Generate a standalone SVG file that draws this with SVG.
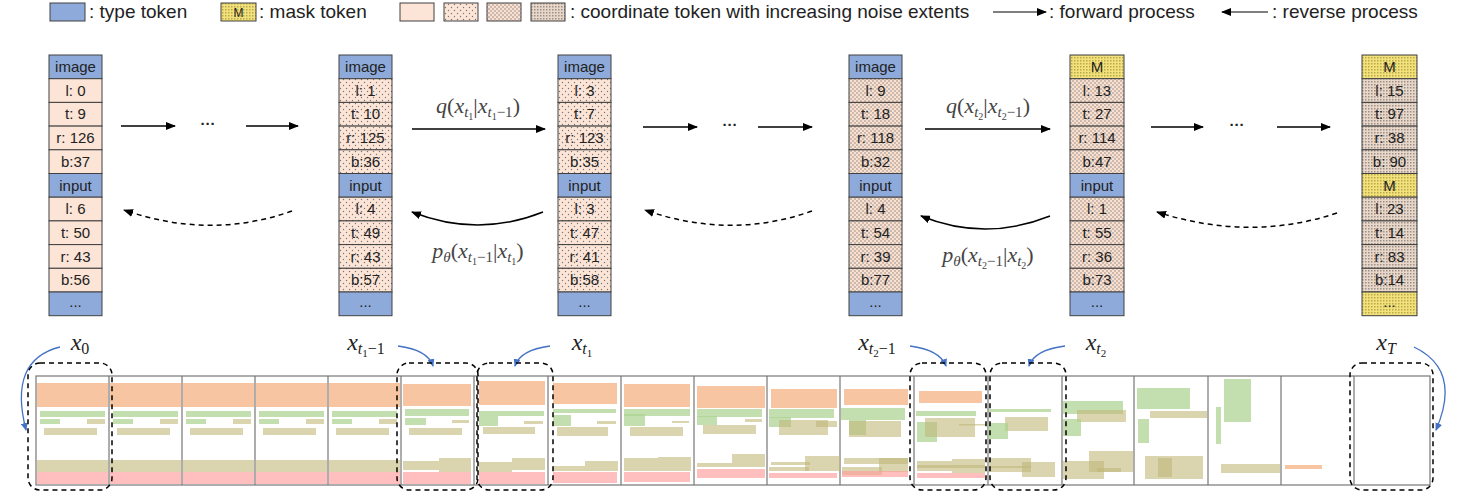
<svg xmlns="http://www.w3.org/2000/svg" width="1460" height="496" viewBox="0 0 1460 496">
<style>
.t{font-family:"Liberation Sans",Arial,sans-serif;font-size:15px;fill:#222;text-anchor:middle}
.lg{font-family:"Liberation Sans",Arial,sans-serif;font-size:19px;fill:#222}
.m{font-family:"Liberation Serif","DejaVu Serif",serif;font-style:italic;font-size:24px;fill:#222;text-anchor:middle}
.ms{font-family:"Liberation Serif","DejaVu Serif",serif;font-size:22px;fill:#444;text-anchor:middle}
.c{stroke:#404040;stroke-width:1}
.ty{fill:#8eaadb}
.c0{fill:#fce4d6}
.c1{fill:url(#p1)}.c2{fill:url(#p2)}.c3{fill:url(#p3)}
.mk{fill:url(#pm)}
.fw{stroke:#000;stroke-width:1.5;fill:none;marker-end:url(#ah)}
.dw{stroke:#000;stroke-width:1.5;fill:none;stroke-dasharray:5,4;marker-end:url(#ah)}
.bl{stroke:#4472c4;stroke-width:1.3;fill:none;marker-end:url(#ab)}
.db{stroke:#000;stroke-width:1.5;fill:none;stroke-dasharray:5,4}
.pn{fill:#fff;stroke:#777;stroke-width:1.2}
.o{fill:#f4b183;opacity:.75}.g{fill:#a9d18e;opacity:.7}.k{fill:#c2b77a;opacity:.6}.r{fill:#ff9d9d;opacity:.65}
</style>
<defs>
<marker id="ah" markerWidth="10" markerHeight="8" refX="9" refY="4" orient="auto" markerUnits="userSpaceOnUse"><path d="M0,0 L10,4 L0,8 Z" fill="#000"/></marker>
<marker id="ab" markerWidth="8" markerHeight="7" refX="7" refY="3.5" orient="auto" markerUnits="userSpaceOnUse"><path d="M0,0 L8,3.5 L0,7 Z" fill="#4472c4"/></marker>
<pattern id="p1" width="6" height="6" patternUnits="userSpaceOnUse"><rect width="6" height="6" fill="#fce4d6"/><circle cx="1.5" cy="1.5" r=".7" fill="#777"/><circle cx="4.5" cy="4.5" r=".7" fill="#777"/></pattern>
<pattern id="p2" width="4" height="4" patternUnits="userSpaceOnUse"><rect width="4" height="4" fill="#fbe0cf"/><circle cx="1" cy="1" r=".7" fill="#777"/><circle cx="3" cy="3" r=".7" fill="#777"/></pattern>
<pattern id="p3" width="3" height="3" patternUnits="userSpaceOnUse"><rect width="3" height="3" fill="#e9d7c9"/><rect width="1.5" height="1.5" fill="#9a9088"/></pattern>
<pattern id="pm" width="3" height="3" patternUnits="userSpaceOnUse"><rect width="3" height="3" fill="#f3e27a"/><rect width="1.5" height="1.5" fill="#b8a850"/></pattern>
</defs>
<rect width="1460" height="496" fill="#fff"/>

<g id="legend">
<rect x="50" y="3" width="35" height="18" class="ty c"/><text x="89" y="18" class="lg">: type token</text>
<rect x="221" y="3" width="35" height="18" class="mk c"/><text x="238.5" y="17" class="t" style="font-size:12px">M</text><text x="259" y="18" class="lg">: mask token</text>
<rect x="400" y="3" width="34" height="18" class="c0 c"/>
<rect x="444" y="3" width="34" height="18" class="c1 c"/>
<rect x="487" y="3" width="34" height="18" class="c2 c"/>
<rect x="531" y="3" width="34" height="18" class="c3 c"/>
<text x="570" y="18" class="lg">: coordinate token with increasing noise extents</text>
<line x1="993" y1="12" x2="1046" y2="12" class="fw" style="stroke-width:1.2"/><text x="1049" y="18" class="lg">: forward process</text>
<line x1="1268" y1="12" x2="1222" y2="12" class="fw" style="stroke-width:1.2"/><text x="1272" y="18" class="lg">: reverse process</text>
</g>

<g id="col0">
<rect x="49" y="55" width="53" height="23.7" class="ty c"/><text x="75.5" y="72" class="t">image</text>
<rect x="49" y="78.7" width="53" height="23.7" class="c0 c"/><text x="75.5" y="95.7" class="t">l: 0</text>
<rect x="49" y="102.4" width="53" height="23.7" class="c0 c"/><text x="75.5" y="119.4" class="t">t: 9</text>
<rect x="49" y="126.1" width="53" height="23.7" class="c0 c"/><text x="75.5" y="143.1" class="t">r: 126</text>
<rect x="49" y="149.8" width="53" height="23.7" class="c0 c"/><text x="75.5" y="166.8" class="t">b:37</text>
<rect x="49" y="173.5" width="53" height="23.7" class="ty c"/><text x="75.5" y="190.5" class="t">input</text>
<rect x="49" y="197.2" width="53" height="23.7" class="c0 c"/><text x="75.5" y="214.2" class="t">l: 6</text>
<rect x="49" y="220.9" width="53" height="23.7" class="c0 c"/><text x="75.5" y="237.9" class="t">t: 50</text>
<rect x="49" y="244.6" width="53" height="23.7" class="c0 c"/><text x="75.5" y="261.6" class="t">r: 43</text>
<rect x="49" y="268.3" width="53" height="23.7" class="c0 c"/><text x="75.5" y="285.3" class="t">b:56</text>
<rect x="49" y="292" width="53" height="23.7" class="ty c"/><text x="75.5" y="307" class="t">...</text>
<text x="80" y="350" class="m">x<tspan font-size="16" dy="4" font-style="normal">0</tspan></text>
</g>

<g id="col1">
<rect x="339" y="55" width="53" height="23.7" class="ty c"/><text x="365.5" y="72" class="t">image</text>
<rect x="339" y="78.7" width="53" height="23.7" class="c1 c"/><text x="365.5" y="95.7" class="t">l: 1</text>
<rect x="339" y="102.4" width="53" height="23.7" class="c1 c"/><text x="365.5" y="119.4" class="t">t: 10</text>
<rect x="339" y="126.1" width="53" height="23.7" class="c1 c"/><text x="365.5" y="143.1" class="t">r: 125</text>
<rect x="339" y="149.8" width="53" height="23.7" class="c1 c"/><text x="365.5" y="166.8" class="t">b:36</text>
<rect x="339" y="173.5" width="53" height="23.7" class="ty c"/><text x="365.5" y="190.5" class="t">input</text>
<rect x="339" y="197.2" width="53" height="23.7" class="c1 c"/><text x="365.5" y="214.2" class="t">l: 4</text>
<rect x="339" y="220.9" width="53" height="23.7" class="c1 c"/><text x="365.5" y="237.9" class="t">t: 49</text>
<rect x="339" y="244.6" width="53" height="23.7" class="c1 c"/><text x="365.5" y="261.6" class="t">r: 43</text>
<rect x="339" y="268.3" width="53" height="23.7" class="c1 c"/><text x="365.5" y="285.3" class="t">b:57</text>
<rect x="339" y="292" width="53" height="23.7" class="ty c"/><text x="365.5" y="307" class="t">...</text>
<text x="366" y="350" class="m">x<tspan font-size="16" dy="4">t</tspan><tspan font-size="11" dy="3" font-style="normal">1</tspan><tspan font-size="16" dy="-3" font-style="normal">−1</tspan></text>
</g>

<g id="col2">
<rect x="558" y="55" width="53" height="23.7" class="ty c"/><text x="584.5" y="72" class="t">image</text>
<rect x="558" y="78.7" width="53" height="23.7" class="c1 c"/><text x="584.5" y="95.7" class="t">l: 3</text>
<rect x="558" y="102.4" width="53" height="23.7" class="c1 c"/><text x="584.5" y="119.4" class="t">t: 7</text>
<rect x="558" y="126.1" width="53" height="23.7" class="c1 c"/><text x="584.5" y="143.1" class="t">r: 123</text>
<rect x="558" y="149.8" width="53" height="23.7" class="c1 c"/><text x="584.5" y="166.8" class="t">b:35</text>
<rect x="558" y="173.5" width="53" height="23.7" class="ty c"/><text x="584.5" y="190.5" class="t">input</text>
<rect x="558" y="197.2" width="53" height="23.7" class="c1 c"/><text x="584.5" y="214.2" class="t">l: 3</text>
<rect x="558" y="220.9" width="53" height="23.7" class="c1 c"/><text x="584.5" y="237.9" class="t">t: 47</text>
<rect x="558" y="244.6" width="53" height="23.7" class="c1 c"/><text x="584.5" y="261.6" class="t">r: 41</text>
<rect x="558" y="268.3" width="53" height="23.7" class="c1 c"/><text x="584.5" y="285.3" class="t">b:58</text>
<rect x="558" y="292" width="53" height="23.7" class="ty c"/><text x="584.5" y="307" class="t">...</text>
<text x="582" y="350" class="m">x<tspan font-size="16" dy="4">t</tspan><tspan font-size="11" dy="3" font-style="normal">1</tspan></text>
</g>

<g id="col3">
<rect x="849" y="55" width="53" height="23.7" class="ty c"/><text x="875.5" y="72" class="t">image</text>
<rect x="849" y="78.7" width="53" height="23.7" class="c2 c"/><text x="875.5" y="95.7" class="t">l: 9</text>
<rect x="849" y="102.4" width="53" height="23.7" class="c2 c"/><text x="875.5" y="119.4" class="t">t: 18</text>
<rect x="849" y="126.1" width="53" height="23.7" class="c2 c"/><text x="875.5" y="143.1" class="t">r: 118</text>
<rect x="849" y="149.8" width="53" height="23.7" class="c2 c"/><text x="875.5" y="166.8" class="t">b:32</text>
<rect x="849" y="173.5" width="53" height="23.7" class="ty c"/><text x="875.5" y="190.5" class="t">input</text>
<rect x="849" y="197.2" width="53" height="23.7" class="c2 c"/><text x="875.5" y="214.2" class="t">l: 4</text>
<rect x="849" y="220.9" width="53" height="23.7" class="c2 c"/><text x="875.5" y="237.9" class="t">t: 54</text>
<rect x="849" y="244.6" width="53" height="23.7" class="c2 c"/><text x="875.5" y="261.6" class="t">r: 39</text>
<rect x="849" y="268.3" width="53" height="23.7" class="c2 c"/><text x="875.5" y="285.3" class="t">b:77</text>
<rect x="849" y="292" width="53" height="23.7" class="ty c"/><text x="875.5" y="307" class="t">...</text>
<text x="877" y="350" class="m">x<tspan font-size="16" dy="4">t</tspan><tspan font-size="11" dy="3" font-style="normal">2</tspan><tspan font-size="16" dy="-3" font-style="normal">−1</tspan></text>
</g>

<g id="col4">
<rect x="1070" y="55" width="54" height="23.7" class="mk c"/><text x="1097" y="72" class="t">M</text>
<rect x="1070" y="78.7" width="54" height="23.7" class="c2 c"/><text x="1097" y="95.7" class="t">l: 13</text>
<rect x="1070" y="102.4" width="54" height="23.7" class="c2 c"/><text x="1097" y="119.4" class="t">t: 27</text>
<rect x="1070" y="126.1" width="54" height="23.7" class="c2 c"/><text x="1097" y="143.1" class="t">r: 114</text>
<rect x="1070" y="149.8" width="54" height="23.7" class="c2 c"/><text x="1097" y="166.8" class="t">b:47</text>
<rect x="1070" y="173.5" width="54" height="23.7" class="ty c"/><text x="1097" y="190.5" class="t">input</text>
<rect x="1070" y="197.2" width="54" height="23.7" class="c2 c"/><text x="1097" y="214.2" class="t">l: 1</text>
<rect x="1070" y="220.9" width="54" height="23.7" class="c2 c"/><text x="1097" y="237.9" class="t">t: 55</text>
<rect x="1070" y="244.6" width="54" height="23.7" class="c2 c"/><text x="1097" y="261.6" class="t">r: 36</text>
<rect x="1070" y="268.3" width="54" height="23.7" class="c2 c"/><text x="1097" y="285.3" class="t">b:73</text>
<rect x="1070" y="292" width="54" height="23.7" class="ty c"/><text x="1097" y="307" class="t">...</text>
<text x="1096" y="350" class="m">x<tspan font-size="16" dy="4">t</tspan><tspan font-size="11" dy="3" font-style="normal">2</tspan></text>
</g>

<g id="col5">
<rect x="1362" y="55" width="55" height="23.7" class="mk c"/><text x="1389.5" y="72" class="t">M</text>
<rect x="1362" y="78.7" width="55" height="23.7" class="c3 c"/><text x="1389.5" y="95.7" class="t">l: 15</text>
<rect x="1362" y="102.4" width="55" height="23.7" class="c3 c"/><text x="1389.5" y="119.4" class="t">t: 97</text>
<rect x="1362" y="126.1" width="55" height="23.7" class="c3 c"/><text x="1389.5" y="143.1" class="t">r: 38</text>
<rect x="1362" y="149.8" width="55" height="23.7" class="c3 c"/><text x="1389.5" y="166.8" class="t">b: 90</text>
<rect x="1362" y="173.5" width="55" height="23.7" class="mk c"/><text x="1389.5" y="190.5" class="t">M</text>
<rect x="1362" y="197.2" width="55" height="23.7" class="c3 c"/><text x="1389.5" y="214.2" class="t">l: 23</text>
<rect x="1362" y="220.9" width="55" height="23.7" class="c3 c"/><text x="1389.5" y="237.9" class="t">t: 14</text>
<rect x="1362" y="244.6" width="55" height="23.7" class="c3 c"/><text x="1389.5" y="261.6" class="t">r: 83</text>
<rect x="1362" y="268.3" width="55" height="23.7" class="c3 c"/><text x="1389.5" y="285.3" class="t">b:14</text>
<rect x="1362" y="292" width="55" height="23.7" class="mk c"/><text x="1389.5" y="307" class="t">...</text>
<text x="1386" y="350" class="m">x<tspan font-size="16" dy="4">T</tspan></text>
</g>

<g id="connectors">
<line x1="121" y1="126" x2="175" y2="126" class="fw"/><text x="208" y="129" class="t" style="font-weight:bold">···</text><line x1="246" y1="126" x2="298" y2="126" class="fw"/>
<line x1="412" y1="129" x2="545" y2="129" class="fw"/>
<line x1="643" y1="127" x2="697" y2="127" class="fw"/><text x="730" y="130" class="t" style="font-weight:bold">···</text><line x1="758" y1="127" x2="812" y2="127" class="fw"/>
<line x1="925" y1="129" x2="1050" y2="129" class="fw"/>
<line x1="1151" y1="127" x2="1203" y2="127" class="fw"/><text x="1237" y="130" class="t" style="font-weight:bold">···</text><line x1="1277" y1="127" x2="1330" y2="127" class="fw"/>
<path d="M292,211 Q210,240 124,210" class="dw"/>
<path d="M543,212 Q478,238 412,212" class="fw"/>
<path d="M812,211 Q730,240 645,210" class="dw"/>
<path d="M1050,216 Q985,242 921,216" class="fw"/>
<path d="M1337,213 Q1250,242 1157,212" class="dw"/>
<text x="478" y="113" class="ms"><tspan font-style="italic">q</tspan>(<tspan font-style="italic">x</tspan><tspan font-size="15" dy="4" font-style="italic">t</tspan><tspan font-size="10" dy="3">1</tspan><tspan dy="-7">|</tspan><tspan font-style="italic">x</tspan><tspan font-size="15" dy="4" font-style="italic">t</tspan><tspan font-size="10" dy="3">1</tspan><tspan font-size="15" dy="-3">−1</tspan><tspan dy="-4">)</tspan></text>
<text x="478" y="258" class="ms"><tspan font-style="italic">p</tspan><tspan font-size="15" dy="4" font-style="italic">θ</tspan><tspan dy="-4">(</tspan><tspan font-style="italic">x</tspan><tspan font-size="15" dy="4" font-style="italic">t</tspan><tspan font-size="10" dy="3">1</tspan><tspan font-size="15" dy="-3">−1</tspan><tspan dy="-4">|</tspan><tspan font-style="italic">x</tspan><tspan font-size="15" dy="4" font-style="italic">t</tspan><tspan font-size="10" dy="3">1</tspan><tspan dy="-7">)</tspan></text>
<text x="988" y="113" class="ms"><tspan font-style="italic">q</tspan>(<tspan font-style="italic">x</tspan><tspan font-size="15" dy="4" font-style="italic">t</tspan><tspan font-size="10" dy="3">2</tspan><tspan dy="-7">|</tspan><tspan font-style="italic">x</tspan><tspan font-size="15" dy="4" font-style="italic">t</tspan><tspan font-size="10" dy="3">2</tspan><tspan font-size="15" dy="-3">−1</tspan><tspan dy="-4">)</tspan></text>
<text x="988" y="262" class="ms"><tspan font-style="italic">p</tspan><tspan font-size="15" dy="4" font-style="italic">θ</tspan><tspan dy="-4">(</tspan><tspan font-style="italic">x</tspan><tspan font-size="15" dy="4" font-style="italic">t</tspan><tspan font-size="10" dy="3">2</tspan><tspan font-size="15" dy="-3">−1</tspan><tspan dy="-4">|</tspan><tspan font-style="italic">x</tspan><tspan font-size="15" dy="4" font-style="italic">t</tspan><tspan font-size="10" dy="3">2</tspan><tspan dy="-7">)</tspan></text>
<path d="M60,347 Q8,360 26,430" class="bl"/>
<path d="M398,346 Q428,350 433,366" class="bl"/>
<path d="M550,346 Q520,350 515,366" class="bl"/>
<path d="M910,346 Q940,350 946,366" class="bl"/>
<path d="M1065,346 Q1034,350 1029,366" class="bl"/>
<path d="M1414,347 Q1462,370 1436,430" class="bl"/>
</g>

<g id="strip">
<rect x="36" y="376" width="1394" height="109" class="pn"/>
<path d="M109,376V485M182,376V485M255,376V485M328,376V485M401,376V485M474,376V485M548,376V485M621,376V485M694,376V485M767,376V485M840,376V485M914,376V485M988,376V485M1062,376V485M1134,376V485M1208,376V485M1281,376V485M1354,376V485" stroke="#777" stroke-width="1.2"/>
<g id="pclean">
<rect x="37" y="383" width="71" height="24" class="o"/><rect x="40" y="411" width="65" height="6" class="g"/><rect x="40" y="419" width="20" height="5" class="g"/><rect x="87" y="419" width="18" height="5" class="k"/><rect x="44" y="428" width="53" height="7" class="k"/><rect x="37" y="460" width="36" height="12" class="k"/><rect x="73" y="460" width="35" height="12" class="k"/><rect x="37" y="472" width="71" height="12" class="r"/>
</g>
<use href="#pclean" x="73"/><use href="#pclean" x="146"/><use href="#pclean" x="219"/><use href="#pclean" x="292"/>
<rect x="403" y="384" width="68" height="22" class="o"/><rect x="405" y="409" width="64" height="7" class="g"/><rect x="405" y="418" width="21" height="7" class="g"/><rect x="452" y="420" width="17" height="3" class="k"/><rect x="409" y="428" width="53" height="7" class="k"/><rect x="403" y="461" width="36" height="9" class="k"/><rect x="439" y="458" width="32" height="14" class="k"/><rect x="403" y="472" width="68" height="12" class="r"/>
<rect x="479" y="381" width="66" height="24" class="o"/><rect x="479" y="411" width="65" height="5" class="g"/><rect x="479" y="416" width="19" height="10" class="g"/><rect x="524" y="421" width="19" height="3" class="k"/><rect x="483" y="427" width="52" height="7" class="k"/><rect x="479" y="462" width="33" height="10" class="k"/><rect x="512" y="458" width="33" height="12" class="k"/><rect x="479" y="472" width="66" height="12" class="r"/>
<rect x="553" y="383" width="64" height="21" class="o"/><rect x="553" y="409" width="63" height="4" class="g"/><rect x="553" y="415" width="18" height="11" class="g"/><rect x="597" y="421" width="19" height="3" class="k"/><rect x="557" y="427" width="51" height="9" class="k"/><rect x="553" y="466" width="32" height="5" class="k"/><rect x="585" y="461" width="33" height="10" class="k"/><rect x="553" y="472" width="64" height="11" class="r"/>
<rect x="624" y="384" width="66" height="23" class="o"/><rect x="624" y="409" width="66" height="7" class="g"/><rect x="624" y="414" width="21" height="12" class="g"/><rect x="672" y="421" width="17" height="2" class="k"/><rect x="630" y="427" width="53" height="9" class="k"/><rect x="624" y="458" width="34" height="13" class="k"/><rect x="658" y="457" width="33" height="14" class="k"/><rect x="624" y="472" width="66" height="10" class="r"/>
<rect x="697" y="386" width="68" height="22" class="o"/><rect x="697" y="409" width="65" height="8" class="g"/><rect x="697" y="416" width="20" height="9" class="g"/><rect x="745" y="419" width="17" height="3" class="k"/><rect x="703" y="425" width="53" height="9" class="k"/><rect x="697" y="463" width="35" height="4" class="k"/><rect x="732" y="454" width="33" height="13" class="k"/><rect x="697" y="469" width="68" height="9" class="r"/>
<rect x="771" y="389" width="66" height="19" class="o"/><rect x="769" y="409" width="65" height="9" class="g"/><rect x="769" y="417" width="22" height="10" class="g"/><rect x="779" y="420" width="49" height="15" class="k"/><rect x="816" y="421" width="21" height="6" class="k"/><rect x="771" y="462" width="39" height="3" class="k"/><rect x="805" y="456" width="35" height="15" class="k"/><rect x="769" y="467" width="40" height="4" class="k"/><rect x="769" y="473" width="68" height="5" class="r"/>
<rect x="844" y="389" width="64" height="16" class="o"/><rect x="841" y="408" width="64" height="12" class="g"/><rect x="849" y="420" width="17" height="15" class="g"/><rect x="849" y="421" width="52" height="16" class="k"/><rect x="844" y="458" width="64" height="6" class="k"/><rect x="879" y="458" width="29" height="14" class="k"/><rect x="842" y="467" width="40" height="8" class="k"/><rect x="842" y="471" width="66" height="6" class="r"/>
<rect x="919" y="391" width="63" height="12" class="o"/><rect x="916" y="411" width="60" height="5" class="g"/><rect x="917" y="422" width="20" height="20" class="g"/><rect x="925" y="418" width="50" height="19" class="k"/><rect x="959" y="424" width="27" height="1.5" class="k"/><rect x="917" y="461" width="35" height="10" class="k"/><rect x="952" y="459" width="33" height="14" class="k"/><rect x="917" y="465" width="68" height="3" class="k"/><rect x="917" y="473" width="68" height="5" class="r"/>
<rect x="989" y="409" width="62" height="3" class="g"/><rect x="1005" y="417" width="43" height="14" class="k"/><rect x="988" y="423" width="20" height="16" class="g"/><rect x="989" y="458" width="42" height="14" class="k"/><rect x="1022" y="462" width="33" height="15" class="k"/><rect x="989" y="466" width="42" height="2" class="k"/>
<rect x="1063" y="401" width="60" height="13" class="g"/><rect x="1077" y="410" width="49" height="12" class="k"/><rect x="1063" y="419" width="18" height="17" class="g"/><rect x="1089" y="451" width="44" height="21" class="k"/><rect x="1063" y="461" width="41" height="18" class="k"/><rect x="1097" y="468" width="24" height="4" class="k"/>
<rect x="1137" y="388" width="53" height="21" class="g"/><rect x="1150" y="411" width="57" height="7" class="k"/><rect x="1138" y="419" width="11" height="24" class="g"/><rect x="1145" y="456" width="58" height="23" class="k"/><rect x="1158" y="458" width="14" height="19" class="k"/>
<rect x="1224" y="379" width="27" height="43" class="g"/><rect x="1216" y="407" width="5" height="37" class="g"/><rect x="1221" y="464" width="59" height="9" class="k"/>
<rect x="1285" y="465" width="37" height="4" class="o"/>
<rect x="28" y="363" width="84" height="127" rx="12" class="db"/>
<rect x="397" y="363" width="81" height="127" rx="12" class="db"/>
<rect x="477" y="363" width="76" height="127" rx="12" class="db"/>
<rect x="910" y="363" width="76" height="127" rx="12" class="db"/>
<rect x="990" y="363" width="76" height="127" rx="12" class="db"/>
<rect x="1350" y="363" width="83" height="127" rx="12" class="db"/>
</g>
</svg>
